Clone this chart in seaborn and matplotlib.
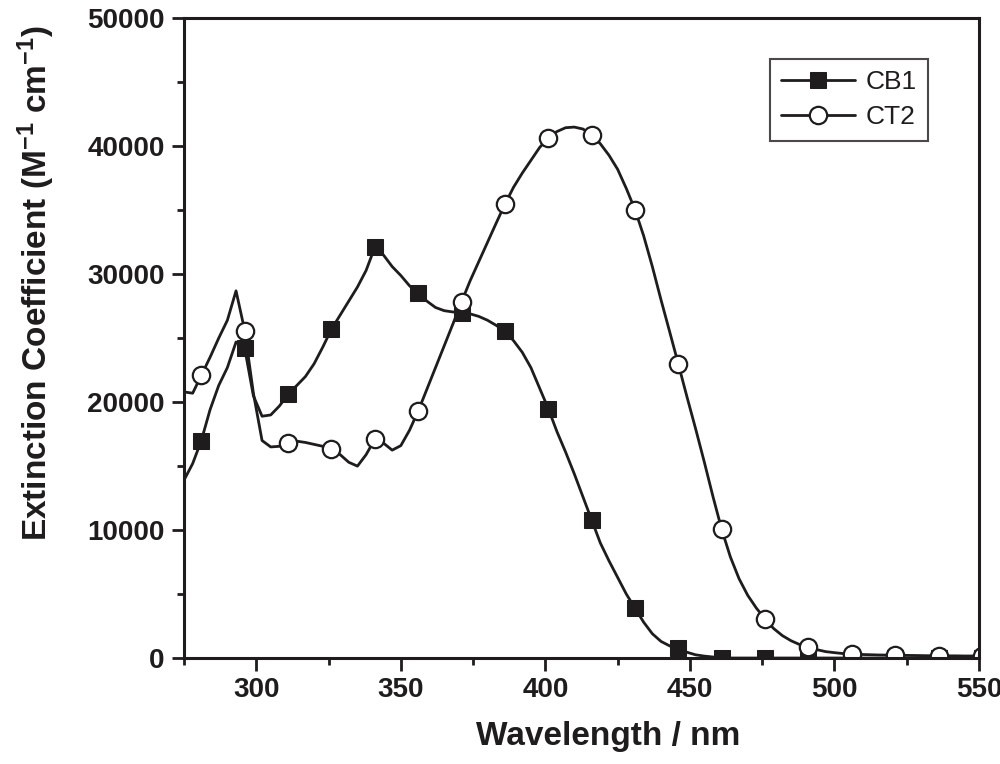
import matplotlib
matplotlib.use("Agg")
import matplotlib.pyplot as plt
import matplotlib.ticker as plticker
import seaborn as sns

wavelength = [275, 278, 281, 284, 287, 290, 293, 296, 299, 302, 305, 308, 311, 314, 317, 320,
              323, 326, 329, 332, 335, 338, 341, 344, 347, 350, 353, 356, 359, 362, 365, 368,
              371, 374, 377, 380, 383, 386, 389, 392, 395, 398, 401, 404, 407, 410, 413, 416,
              419, 422, 425, 428, 431, 434, 437, 440, 443, 446, 449, 452, 455, 458, 461, 464,
              467, 470, 473, 476, 479, 482, 485, 488, 491, 494, 497, 500, 503, 506, 509, 512,
              515, 518, 521, 524, 527, 530, 533, 536, 539, 542, 545, 548, 551]

cb1 = [13900, 15200, 17000, 19400, 21300, 22700, 24700, 24200, 20500, 18900, 19000, 19700,
       20600, 21300, 22000, 23000, 24300, 25700, 26800, 27900, 29000, 30300, 32100, 31500,
       30600, 29900, 29100, 28500, 27900, 27400, 27150, 27050, 27000, 26900, 26700, 26400,
       26000, 25550, 24800, 23900, 22700, 21100, 19500, 17700, 16100, 14400, 12600, 10800,
       9000, 7600, 6300, 5000, 3900, 2800, 1900, 1300, 950, 750, 450, 250, 150, 80, 40, 0,
       0, 0, 0, 0, 0, 0, 0, 0, 0, 0, 0, 0, 0, 0, 0, 0,
       0, 0, 0, 0, 0, 0, 0, 0, 0, 0, 0, 0, 0]

ct2 = [20800, 20700, 22100, 23500, 25000, 26400, 28700, 25600, 20700, 17000, 16500, 16550,
       16770, 16950, 16850, 16700, 16550, 16300, 15900, 15300, 15000, 15900, 17100, 16800,
       16250, 16600, 17800, 19300, 21000, 22700, 24400, 26100, 27840, 29500, 31000, 32500,
       34000, 35470, 36800, 37900, 38900, 39900, 40650, 41150, 41450, 41500, 41350, 40900,
       40200, 39300, 38200, 36700, 35050, 33000, 30600, 28000, 25500, 22970, 20400, 17900,
       15300, 12600, 10050, 7900, 6200, 4900, 3900, 3050, 2300, 1750, 1350, 1050, 835, 650,
       500, 420, 350, 310, 280, 260, 240, 230, 230, 210, 200, 190, 180, 180, 170, 170,
       160, 160, 160]

sns.set_style("ticks")
plt.rcParams['font.family'] = ['Liberation Sans', 'DejaVu Sans']
plt.rcParams['mathtext.fontset'] = 'custom'
plt.rcParams['mathtext.bf'] = 'Liberation Sans:bold'
plt.rcParams['mathtext.rm'] = 'Liberation Sans:bold'
plt.rcParams['mathtext.default'] = 'bf'

ink = '#1e1c1d'

fig, ax = plt.subplots(figsize=(10, 7.64), dpi=100)
fig.subplots_adjust(left=0.184, right=0.979, bottom=0.1387, top=0.976)

sns.lineplot(x=wavelength, y=cb1, ax=ax, sort=False, estimator=None, color=ink, linewidth=2.0,
             marker='s', markersize=11, markevery=(2, 5), markerfacecolor=ink,
             markeredgecolor=ink, label='CB1')
sns.lineplot(x=wavelength, y=ct2, ax=ax, sort=False, estimator=None, color=ink, linewidth=2.0,
             marker='o', markersize=12.5, markevery=(2, 5), markerfacecolor='white',
             markeredgecolor=ink, markeredgewidth=1.6, label='CT2')

ax.set_xlim(275, 550)
ax.set_ylim(0, 50000)
ax.xaxis.set_major_locator(plticker.MultipleLocator(50))
ax.xaxis.set_minor_locator(plticker.MultipleLocator(25))
ax.yaxis.set_major_locator(plticker.MultipleLocator(10000))
ax.yaxis.set_minor_locator(plticker.MultipleLocator(5000))
ax.tick_params(which='major', direction='out', length=9, width=2, color=ink, pad=5,
               labelsize=20, labelcolor=ink)
ax.tick_params(which='minor', direction='out', length=5, width=2, color=ink)
for lab in ax.get_xticklabels() + ax.get_yticklabels():
    lab.set_fontweight('bold')
for sp in ax.spines.values():
    sp.set_linewidth(2.2)
    sp.set_color(ink)

ax.set_xlabel("Wavelength / nm", fontsize=24, fontweight='bold', color=ink)
ax.set_ylabel("Extinction Coefficient (M$^{-1}$ cm$^{-1}$)", fontsize=24, fontweight='bold',
              color=ink)
ax.xaxis.set_label_coords(0.533, -0.098)
ax.yaxis.set_label_coords(-0.160, 0.586)

leg = ax.legend(loc='upper right', bbox_to_anchor=(0.936, 0.936), frameon=True, fancybox=False,
                edgecolor=ink, fontsize=19, handlelength=2.8, borderpad=0.42,
                labelspacing=0.42, handletextpad=0.4, borderaxespad=0)
leg.get_frame().set_linewidth(1.5)
for t in leg.get_texts():
    t.set_color(ink)

plt.savefig("out.png", dpi=100)
